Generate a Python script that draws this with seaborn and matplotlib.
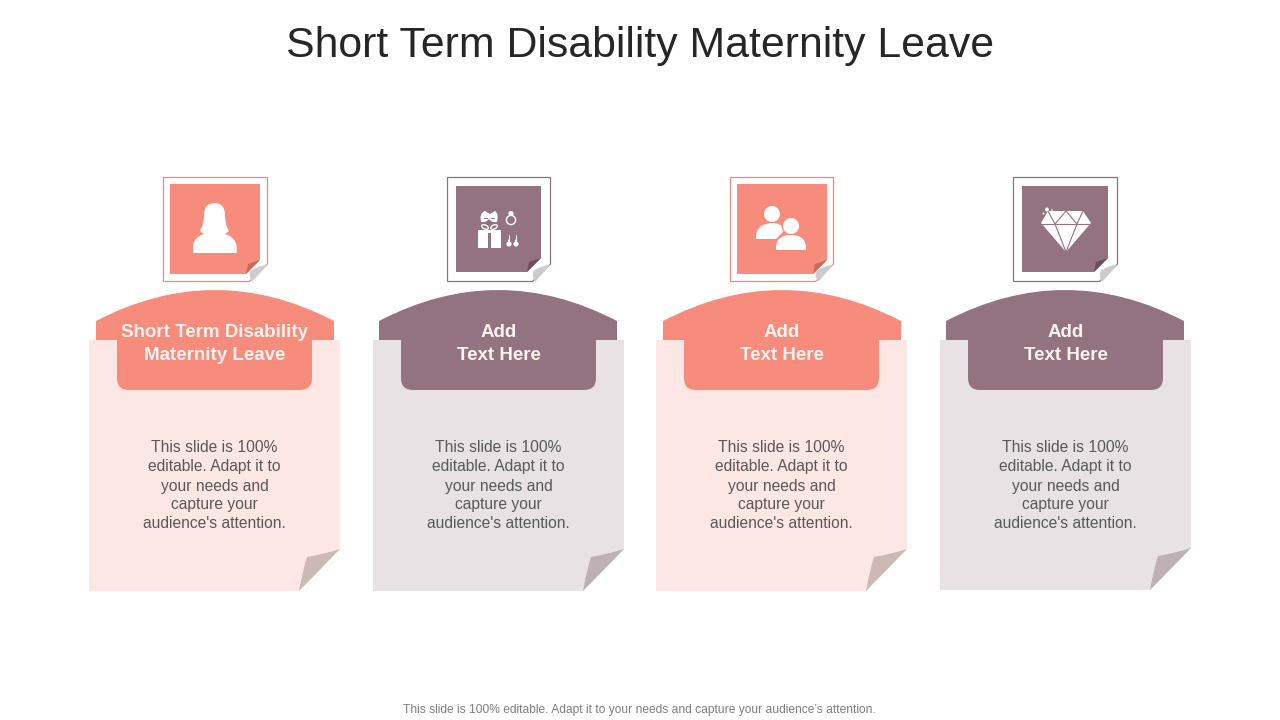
import seaborn as sns
import matplotlib.pyplot as plt
from matplotlib.patches import PathPatch, Polygon, Rectangle, Circle, Ellipse, FancyBboxPatch
from matplotlib.path import Path

title = 'Short Term Disability Maternity Leave'
footer = "This slide is 100% editable. Adapt it to your needs and capture your audience\u2019s attention."
headings = ['Short Term Disability\nMaternity Leave', 'Add\nText Here', 'Add\nText Here', 'Add\nText Here']
body_lines = ['This slide is 100%', 'editable. Adapt it to', 'your needs and', 'capture your', "audience's attention."]

salmon = '#F88C7C'
mauve = '#93737F'
colors = [salmon, mauve, salmon, mauve]
light = ['#FDE7E4', '#E8E2E4', '#FDE7E4', '#E8E2E4']
fold_col = ['#CBB9B6', '#BDB1B5', '#CBB9B6', '#BDB1B5']
flap_dark = ['#C8695C', '#6A4E59', '#C8695C', '#6A4E59']
frame_col = ['#E08F80', '#8A7480', '#E08F80', '#8A7480']

card_x = [89, 373, 656, 940]
card_bottom = [591, 591, 591, 590]
dome_x = [96, 379, 663, 946]
frame_x = [163.5, 447.5, 730.5, 1013.5]
frame_w = [104, 103, 103, 104]
inner = [(170, 260, 184, 274), (456, 541, 186, 272), (737, 827, 184, 274), (1022, 1108, 186, 272)]

sns.set_theme(style='white')
plt.rcParams['font.family'] = ['Liberation Sans', 'DejaVu Sans']

fig, ax = plt.subplots(figsize=(12.8, 7.2), dpi=100)
fig.subplots_adjust(0, 0, 1, 1)
ax.set_xlim(0, 1280)
ax.set_ylim(720, 0)
ax.axis('off')


def curve(points, color, z=2, ec='none', lw=0):
    # points: start then line points or (control, end) pairs
    verts, codes = [points[0]], [Path.MOVETO]
    for seg in points[1:]:
        if len(seg) == 2 and not isinstance(seg[0], tuple):
            verts.append(seg)
            codes.append(Path.LINETO)
        else:
            verts.extend(seg)
            codes.extend([Path.CURVE3, Path.CURVE3])
    verts.append(points[0])
    codes.append(Path.CLOSEPOLY)
    ax.add_patch(PathPatch(Path(verts, codes), fc=color, ec=ec, lw=lw, zorder=z))


def woman(c):
    curve([(200, 231), ((204, 224), (204, 215)), ((204, 203), (214.5, 203)),
           ((225, 203), (225, 215)), ((225, 224), (229, 231)), ((226, 234), (222, 235)), (207, 235),
           ((203, 234), (200, 231))], 'white', 4)
    curve([(193.5, 253), ((190, 237), (207, 233)), (222, 233), ((239, 237), (236.5, 253))], 'white', 4)


def gift(c):
    w = 'white'
    # glasses / mask
    curve([(481, 222), ((479, 213), (485, 211)), (490, 214), (495, 211), ((499, 213), (497, 222)),
           ((492, 223), (489, 219)), ((486, 223), (481, 222))], w, 4)
    ax.plot([484, 487], [218, 218], color=c, lw=0.7, zorder=5)
    ax.plot([491, 494], [218, 218], color=c, lw=0.7, zorder=5)
    # box
    ax.add_patch(Rectangle((478, 230), 23, 18, fc=w, ec='none', zorder=4))
    ax.add_patch(Rectangle((487.5, 233), 3.5, 15, fc=c, ec='none', zorder=5))
    ax.add_patch(Ellipse((485, 227), 7, 4, angle=25, fc='none', ec=w, lw=1.0, zorder=4))
    ax.add_patch(Ellipse((494, 227), 7, 4, angle=-25, fc='none', ec=w, lw=1.0, zorder=4))
    # ring
    ax.add_patch(Circle((511, 220), 4.6, fc='none', ec=w, lw=1.0, zorder=4))
    ax.add_patch(Circle((511, 213.5), 2.6, fc=w, ec='none', zorder=4))
    # earrings
    for ex in [509, 516]:
        ax.plot([ex, ex], [235, 241], color=w, lw=0.7, zorder=4)
        ax.add_patch(Circle((ex, 244), 2.6, fc=w, ec='none', zorder=4))
        ax.add_patch(Circle((ex, 240.5), 1.1, fc=w, ec='none', zorder=4))


def people(c):
    w = 'white'
    ax.add_patch(Circle((772, 214), 8, fc=w, ec='none', zorder=4))
    curve([(756, 239), ((755, 224), (772, 223)), ((782, 223), (785, 230)), (776, 239)], w, 4)
    ax.add_patch(Circle((791, 226), 9.5, fc=c, ec='none', zorder=5))
    ax.add_patch(Circle((791, 226), 8, fc=w, ec='none', zorder=6))
    curve([(776, 250), ((775, 235), (791, 235)), ((807, 235), (806, 250))], w, 6)


def diamond(c):
    w = 'white'
    ax.add_patch(Polygon([(1048, 211), (1083, 211), (1091, 223), (1066, 252), (1041, 223)],
                         fc=w, ec='none', zorder=4))
    facets = [[(1041, 224), (1091, 224)], [(1055, 224), (1066, 252), (1077, 224)],
              [(1048, 211), (1055, 224), (1066, 211), (1077, 224), (1083, 211)]]
    for f in facets:
        ax.plot(*zip(*f), color=c, lw=0.8, zorder=5)
    ax.add_patch(Circle((1047, 209.5), 2, fc=w, ec='none', zorder=6))
    ax.add_patch(Circle((1043.5, 213.5), 1, fc=w, ec='none', zorder=6))
    ax.add_patch(Circle((1052, 210), 0.8, fc=w, ec='none', zorder=6))


icons = [woman, gift, people, diamond]

ax.text(640, 46, title, ha='center', va='center', fontsize=30.8, color='#262626')
ax.text(639.5, 710, footer, ha='center', va='center', fontsize=8.65, color='#7F7F7F')

for i in range(4):
    x0, b, c = card_x[i], card_bottom[i], colors[i]
    cx = x0 + 125.5

    # page with turned corner
    ax.add_patch(Polygon([(x0, 340), (x0 + 251, 340), (x0 + 251, b - 42), (x0 + 210, b), (x0, b)],
                         fc=light[i], ec='none', zorder=1))
    curve([(x0 + 210, b), ((x0 + 214, b - 22), (x0 + 218, b - 34)),
           ((x0 + 236, b - 37), (x0 + 251, b - 42))], fold_col[i], 2)

    # header dome and tab
    dx = dome_x[i]
    curve([(dx, 321), ((dx + 119, 259), (dx + 238, 321)), (dx + 238, 340), (dx, 340)], c, 2)
    ax.add_patch(FancyBboxPatch((x0 + 28 + 12, 330 + 12), 195 - 24, 60 - 24,
                                boxstyle='round,pad=12,rounding_size=12', fc=c, ec='none', zorder=2))

    # icon frame
    fx, fw = frame_x[i], frame_w[i]
    ax.add_patch(Polygon([(fx, 177.5), (fx + fw, 177.5), (fx + fw, 264), (fx + fw - 18, 281.5), (fx, 281.5)],
                         fc='white', ec=frame_col[i], lw=0.9, zorder=2))
    l, r, t, bt = inner[i]
    ax.add_patch(Polygon([(l, t), (r, t), (r, bt - 14), (r - 14, bt), (l, bt)], fc=c, ec='none', zorder=3))
    ax.add_patch(Polygon([(r - 14, bt), (r - 12, bt - 10), (r, bt - 14)], fc=flap_dark[i], ec='none', zorder=3))
    curve([(fx + fw, 264.5), ((fx + fw - 10, 266), (fx + fw - 17, 271)), ((fx + fw - 19, 277), (fx + fw - 15, 281.5))],
          '#CFCACB', 4)
    icons[i](c)

    # texts
    top, bottom = headings[i].split('\n')
    ax.text(cx, 332.5, top, ha='center', va='center', fontsize=13.5, fontweight='bold', color='#FFF3EF', zorder=7)
    ax.text(cx, 355.5, bottom, ha='center', va='center', fontsize=13.5, fontweight='bold', color='#FFF3EF', zorder=7)
    for k, line in enumerate(body_lines):
        ax.text(cx, 448 + 19 * k, line, ha='center', va='center', fontsize=11.25, color='#595959', zorder=7)

fig.savefig('out.png', dpi=100)
